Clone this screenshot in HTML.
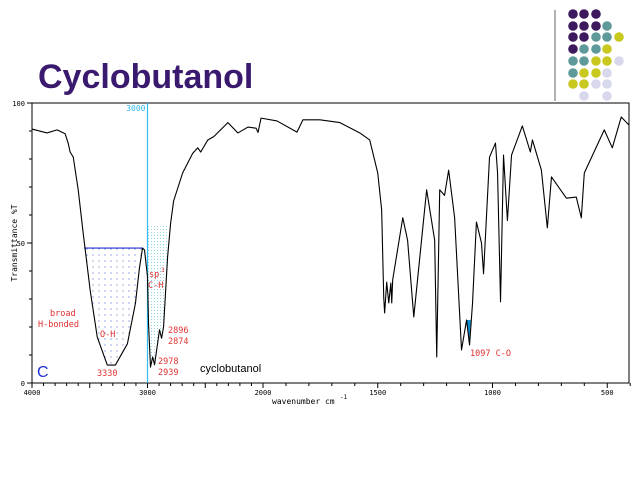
<!DOCTYPE html>
<html><head><meta charset="utf-8"><style>
body{margin:0;background:#fff;}
svg{display:block;font-family:"Liberation Sans",sans-serif;}
.m{font-family:"DejaVu Sans Mono","Liberation Mono",monospace;}
</style></head><body>
<svg id="s" width="638" height="478" viewBox="0 0 638 478" xmlns="http://www.w3.org/2000/svg">
<defs>
<pattern id="dots" width="6" height="6" patternUnits="userSpaceOnUse"><circle cx="3" cy="3" r="0.6" fill="#5a6ad0"/></pattern>
<pattern id="cdots" width="3" height="3" patternUnits="userSpaceOnUse"><circle cx="1.5" cy="1.5" r="0.5" fill="#6cc8e0"/></pattern>
</defs>
<text x="38" y="88" font-size="34" font-weight="bold" fill="#3a1a6e">Cyclobutanol</text>
<line x1="555" y1="10" x2="555" y2="101" stroke="#666" stroke-width="1"/>
<g id="deco"></g>
<rect x="32" y="103" width="597" height="280" fill="none" stroke="#000" stroke-width="1"/>
<g id="plot"></g>
</svg>
<script>
const wavenumbers=[4000,3870,3783,3713,3687,3670,3643,3600,3557,3496,3435,3348,3278,3174,3104,3070,3043,3026,3000,2991,2974,2955,2939,2913,2896,2878,2861,2826,2800,2774,2696,2609,2565,2539,2478,2426,2304,2217,2130,2060,2043,2017,1939,1852,1826,1752,1665,1578,1535,1500,1483,1474,1470,1461,1452,1443,1439,1435,1391,1370,1343,1287,1252,1243,1230,1209,1191,1165,1135,1113,1100,1087,1070,1048,1039,1013,987,978,965,952,935,917,870,835,826,787,761,743,678,635,613,600,513,478,439,404];
const transmittance=[90.7,89.3,90.4,89,85.7,82.5,80.7,69,53.6,33,16.4,6.4,6.4,14,28.6,41,48.2,47.5,38,21,5.7,9.3,6.5,14,19,16,20,45,57,65,75,82,84,82.5,86.8,88,93,89.3,91.4,91,89.5,94.6,93.6,89.6,94,94,93,89.3,86.8,75,61.8,30.7,25,36,28.6,35.7,28.6,36.8,59,51,23.6,69,51,9.3,69,67,76,59,11.8,22.5,13.6,28.6,57.5,50,39,80.7,85.7,75,29,81.4,58,81.4,91.8,82.5,86.8,76,55.4,73.6,66,66.4,59,75,90.4,84,95,92];
const xTicks=[4000,3000,2000,1500,1000,500];
const yTicks=[0,50,100];
const X=w=>w>=2000?32+(4000-w)*0.1155:263+(2000-w)*0.2295;
const Y=t=>383-t*2.8;
const NS='http://www.w3.org/2000/svg';
const plot=document.getElementById('plot');
function mk(tag,attrs,parent,txt){const e=document.createElementNS(NS,tag);for(const k in attrs)e.setAttribute(k,attrs[k]);if(txt!==undefined)e.textContent=txt;(parent||plot).appendChild(e);return e;}
const deco=document.getElementById('deco');
const P='#3d1a5e',T='#5f9a9a',Yl='#c8c81e',L='#d8d8ec';
const rows=[[P,P,P],[P,P,P,T],[P,P,T,T,Yl],[P,T,T,Yl],[T,T,Yl,Yl,L],[T,Yl,Yl,L],[Yl,Yl,L,L],[null,L,null,L]];
const cx=[573,584,596,607,619],cy=[14,26,37,49,61,73,84,96];
rows.forEach((r,i)=>r.forEach((c,j)=>{if(!c)return;const d=mk('circle',{cx:cx[j],cy:cy[i],r:4.8,fill:c},deco);

}));
let ptsOH=[];wavenumbers.forEach((w,i)=>{if(w<=3557&&w>=3043)ptsOH.push(X(w)+','+Y(transmittance[i]));});
const oh=mk('polygon',{points:X(3557)+','+Y(48.2)+' '+ptsOH.join(' ')+' '+X(3043)+','+Y(48.2),fill:'url(#dots)'});


const ohl=mk('line',{x1:84,y1:Y(48.2),x2:X(3043),y2:Y(48.2),stroke:'#2030d0','stroke-width':1.2});


let ptsCH=[];wavenumbers.forEach((w,i)=>{if(w<=3000&&w>=2826)ptsCH.push(X(w)+','+Y(transmittance[i]));});
const ch=mk('polygon',{points:X(3000)+','+Y(56)+' '+ptsCH.join(' ')+' '+X(2815)+','+Y(56),fill:'url(#cdots)'});


const co=mk('polygon',{points:[[1113,22.5],[1100,13.6],[1095,22.5]].map(p=>X(p[0])+','+Y(p[1])).join(' '),fill:'#1090d0'});


const l3=mk('line',{x1:X(3000),y1:103,x2:X(3000),y2:383,stroke:'#30c0f0','stroke-width':1.2});


const t3=mk('text',{x:X(3000)-2,y:111,'font-size':8,fill:'#30b8e8','text-anchor':'end',class:'m'},plot,'3000');


const sp=mk('polyline',{points:wavenumbers.map((w,i)=>X(w)+','+Y(transmittance[i])).join(' '),fill:'none',stroke:'#000','stroke-width':1.1,'stroke-linejoin':'round'});


for(let w=4000;w>=400;w-=100){const major=w%500===0;const t=mk('line',{x1:X(w),y1:383,x2:X(w),y2:major?388:386,stroke:'#000','stroke-width':1});

}
xTicks.forEach(w=>{const t=mk('text',{x:X(w),y:395,'font-size':7,'text-anchor':'middle',class:'m'},plot,String(w));

});
for(let v=0;v<=100;v+=10){const t=mk('line',{x1:32,y1:Y(v),x2:v%50===0?27:29,y2:Y(v),stroke:'#000','stroke-width':1});

}
yTicks.forEach(v=>{const t=mk('text',{x:25,y:Y(v)+3,'font-size':7,'text-anchor':'end',class:'m'},plot,String(v));

});
const xt=mk('text',{x:272,y:404,'font-size':8,class:'m'},plot,'wavenumber cm');


const xs=mk('text',{x:340,y:399,'font-size':6,class:'m'},plot,'-1');


const yt=mk('text',{x:0,y:0,'font-size':8,'text-anchor':'middle',class:'m',transform:'translate(17,243) rotate(-90)'},plot,'Transmittance %T');


const ann=[['sp','149',277],['C-H',148,288],['broad',50,316],['H-bonded',38,327],['O-H',100,337],['3330',97,376],['2896',168,333],['2874',168,344],['2978',158,364],['2939',158,375],['1097  C-O',470,356]];
ann.forEach(a=>{const t=mk('text',{x:a[1],y:a[2],'font-size':8.5,fill:'#e03030',class:'m'},plot,a[0]);

});
const sup=mk('text',{x:161,y:272,'font-size':6,fill:'#e03030',class:'m'},plot,'3');


const cl=mk('text',{x:200,y:372,'font-size':11},plot,'cyclobutanol');


const cc=mk('text',{x:37,y:377,'font-size':16,fill:'#2030d0'},plot,'C');


</script>
</body></html>
